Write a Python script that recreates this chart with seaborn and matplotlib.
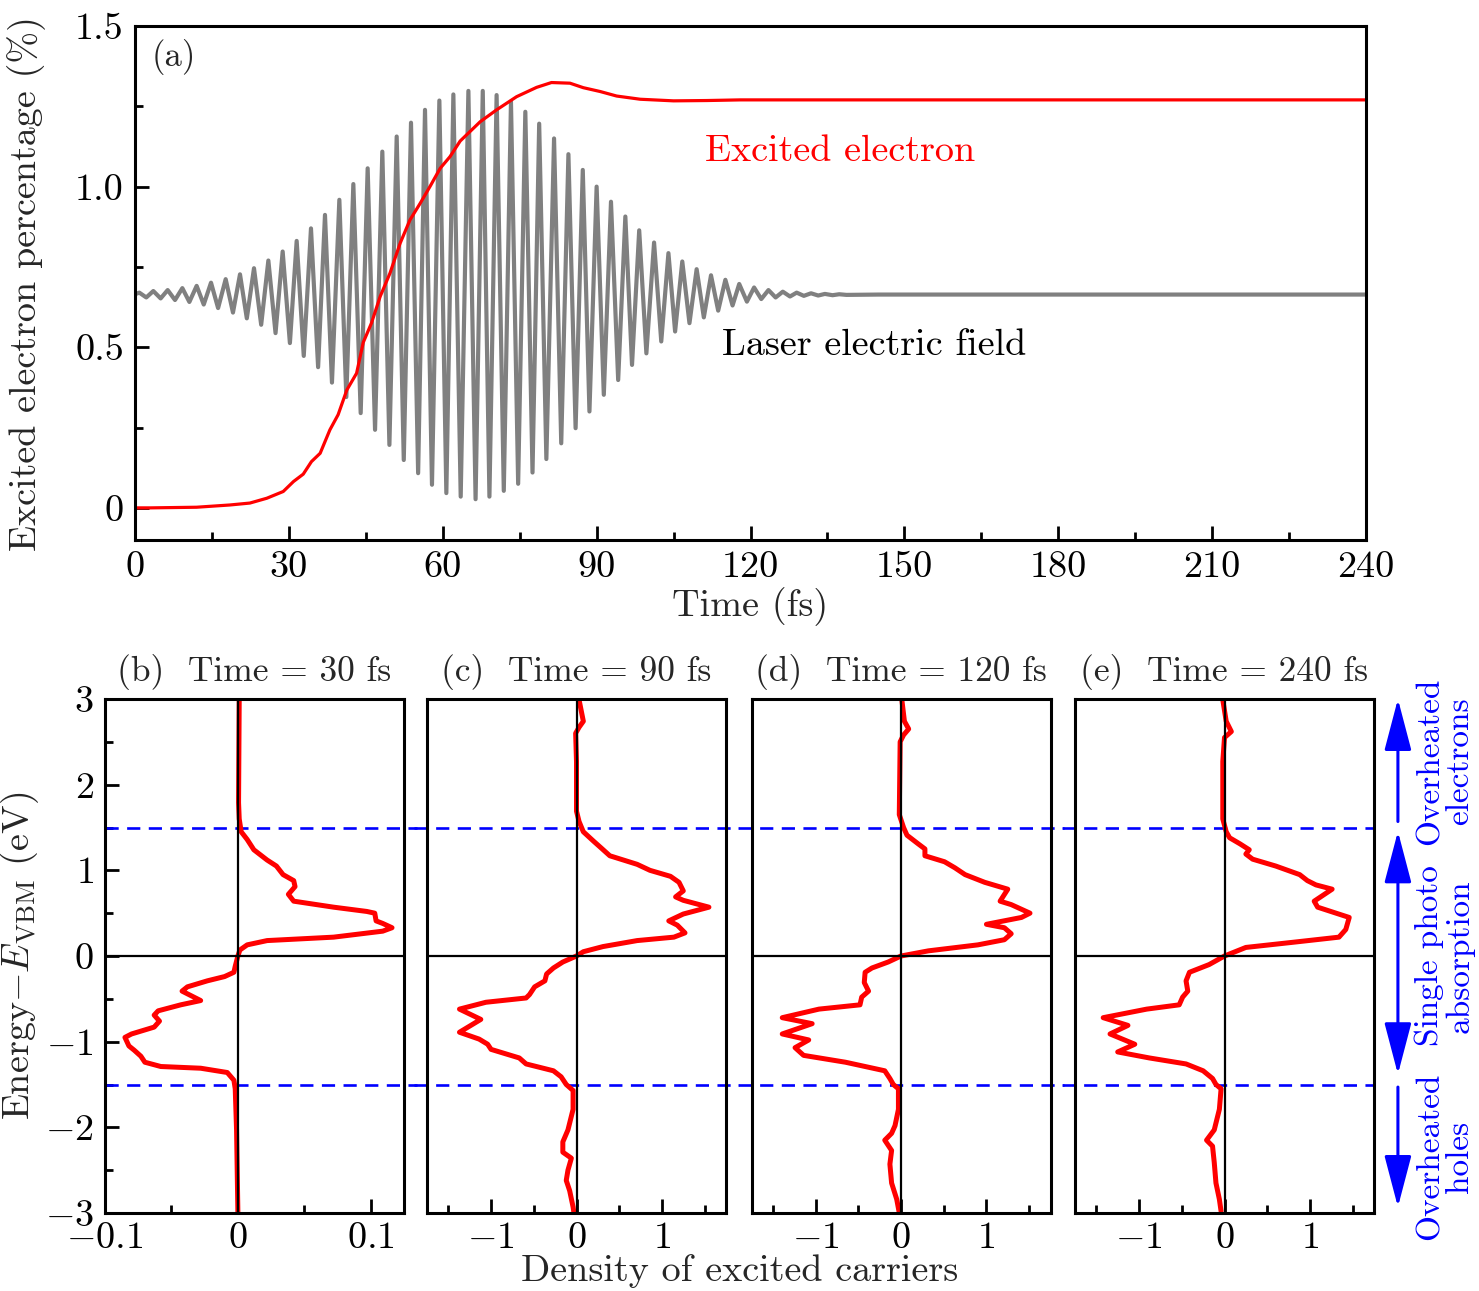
import numpy as np
import pandas as pd
import matplotlib
matplotlib.use("Agg")
import matplotlib.pyplot as plt
import seaborn as sns
from matplotlib.ticker import MultipleLocator, FixedLocator, FixedFormatter

# ---------------- data: panel (a) ----------------
electron_time = [0, 3, 12, 18.5, 22.4, 25.7, 28.9, 30.9, 32.8, 34.4, 36.1, 38.0, 39.6, 41.3,
                 43.2, 44.5, 46.1, 47.8, 49.7, 51.7, 53.6, 55.6, 57.5, 59.5, 61.4, 63.4, 67.3,
                 70.5, 74.4, 78.3, 81.2, 84.8, 87.4, 90.7, 93.9, 98.5, 105, 111.5, 118, 240]
electron_pct = [0, 0, 0.002, 0.009, 0.015, 0.030, 0.051, 0.082, 0.105, 0.144, 0.170, 0.243, 0.290,
                0.367, 0.419, 0.515, 0.575, 0.658, 0.730, 0.824, 0.896, 0.948, 1.000, 1.057, 1.093,
                1.142, 1.202, 1.239, 1.280, 1.309, 1.324, 1.322, 1.308, 1.296, 1.282, 1.272, 1.267,
                1.268, 1.270, 1.270]

laser_time = [0, 0.84, 2.2, 3.57, 5.0, 6.37, 7.8, 9.23, 10.6, 12.02, 13.4, 14.82, 16.2, 17.68, 19.1,
              20.47, 21.8, 23.2, 24.6, 26.0, 27.4, 28.79, 30.2, 31.52, 32.9, 34.31, 35.7, 37.04, 38.4,
              39.84, 41.2, 42.57, 44.0, 45.36, 46.8, 48.22, 49.6, 51.02, 52.4, 53.81, 55.2, 56.54, 57.9,
              59.34, 60.7, 62.07, 63.5, 65.0, 66.4, 67.8, 69.1, 70.5, 71.9, 73.3, 74.7, 76.1, 77.5,
              78.8, 80.2, 81.7, 83.1, 84.5, 85.9, 87.3, 88.6, 90.0, 91.4, 92.8, 94.2, 95.6, 96.9,
              98.3, 99.7, 101.2, 102.6, 104.0, 105.3, 106.7, 108.1, 109.5, 110.9, 112.3, 113.7, 115.1,
              116.5, 117.8, 119.3, 120.7, 122.1, 123.5, 124.9, 126.3, 127.7, 129.0, 130.4, 131.8, 133.2,
              134.5, 136.0, 137.3, 138.7, 145, 240]
laser_field = [0.665, 0.670, 0.655, 0.675, 0.652, 0.678, 0.647, 0.684, 0.641, 0.691, 0.633, 0.701, 0.622,
               0.712, 0.608, 0.727, 0.590, 0.746, 0.570, 0.770, 0.544, 0.798, 0.513, 0.831, 0.473, 0.870,
               0.438, 0.912, 0.390, 0.959, 0.345, 1.008, 0.295, 1.057, 0.243, 1.109, 0.196, 1.156, 0.149,
               1.199, 0.108, 1.239, 0.072, 1.268, 0.046, 1.287, 0.035, 1.298, 0.027, 1.298, 0.035, 1.285,
               0.053, 1.265, 0.075, 1.233, 0.110, 1.196, 0.152, 1.150, 0.201, 1.101, 0.248, 1.052, 0.300,
               1.000, 0.352, 0.953, 0.398, 0.907, 0.445, 0.864, 0.481, 0.826, 0.518, 0.793, 0.549, 0.767,
               0.575, 0.743, 0.593, 0.724, 0.614, 0.710, 0.630, 0.697, 0.642, 0.686, 0.650, 0.678, 0.655,
               0.673, 0.658, 0.670, 0.660, 0.668, 0.661, 0.666, 0.662, 0.665, 0.663, 0.664, 0.664]

# ---------------- data: panels (b)-(e) ----------------
b_energy = [3.0, 1.79, 1.6, 1.45, 1.36, 1.24, 1.12, 1.05, 0.95, 0.88, 0.81, 0.72, 0.64, 0.57, 0.52, 0.50,
            0.41, 0.38, 0.33, 0.29, 0.22, 0.18, 0.13, 0.07, 0.0, -0.12, -0.19, -0.24, -0.29, -0.36,
            -0.41, -0.52, -0.57, -0.64, -0.69, -0.76, -0.83, -0.91, -0.95, -1.05, -1.10, -1.17, -1.24,
            -1.29, -1.31, -1.36, -1.45, -1.55, -2.03, -3.0]
b_density = [0.001, 0.0005, 0.001, 0.0025, 0.007, 0.012, 0.022, 0.029, 0.034, 0.042, 0.043, 0.038,
             0.042, 0.072, 0.097, 0.103, 0.104, 0.109, 0.116, 0.109, 0.072, 0.022, 0.007, 0.0015, 0.0,
             -0.002, -0.003, -0.010, -0.023, -0.038, -0.042, -0.028, -0.043, -0.060, -0.063, -0.059,
             -0.063, -0.080, -0.085, -0.082, -0.078, -0.073, -0.070, -0.058, -0.028, -0.008, -0.003,
             -0.002, -0.001, 0.0]

c_energy = [2.99, 2.74, 2.67, 2.6, 2.27, 1.69, 1.57, 1.45, 1.34, 1.26, 1.17, 1.07, 1.0, 0.93, 0.86, 0.76,
            0.69, 0.65, 0.57, 0.49, 0.41, 0.36, 0.27, 0.22, 0.18, 0.11, 0.05, 0.0, -0.07, -0.14, -0.21,
            -0.29, -0.36, -0.45, -0.49, -0.54, -0.62, -0.74, -0.89, -0.97, -1.03, -1.09, -1.19, -1.26,
            -1.34, -1.41, -1.50, -1.57, -1.79, -2.03, -2.17, -2.29, -2.36, -2.50, -2.62, -2.74, -2.93, -3.0]
c_density = [0.03, 0.08, 0.03, -0.01, 0.0, 0.0, 0.03, 0.08, 0.2, 0.29, 0.39, 0.71, 0.86, 1.10, 1.20, 1.25,
             1.16, 1.25, 1.55, 1.25, 1.08, 1.18, 1.27, 1.14, 0.71, 0.31, 0.08, 0.0, -0.16, -0.27, -0.35,
             -0.37, -0.49, -0.55, -0.59, -1.06, -1.37, -1.12, -1.37, -1.14, -1.04, -1.00, -0.67, -0.59,
             -0.27, -0.18, -0.12, -0.04, -0.04, -0.10, -0.16, -0.16, -0.06, -0.10, -0.12, -0.08, -0.04, -0.03]

d_energy = [2.99, 2.74, 2.65, 2.58, 2.5, 1.65, 1.5, 1.41, 1.31, 1.25, 1.17, 1.10, 1.03, 0.95, 0.86, 0.78,
            0.64, 0.60, 0.50, 0.45, 0.37, 0.33, 0.26, 0.19, 0.13, 0.06, 0.0, -0.07, -0.14, -0.19, -0.31,
            -0.41, -0.48, -0.57, -0.62, -0.72, -0.79, -0.91, -0.98, -1.07, -1.16, -1.24, -1.34, -1.43,
            -1.50, -1.55, -1.79, -1.98, -2.07, -2.15, -2.27, -2.43, -2.65, -2.84, -3.0]
d_density = [0.01, 0.04, 0.09, 0.03, -0.01, -0.02, 0.03, 0.07, 0.2, 0.28, 0.28, 0.51, 0.63, 0.75, 0.98,
             1.25, 1.16, 1.29, 1.51, 1.41, 1.00, 1.21, 1.29, 1.21, 0.90, 0.32, 0.0, -0.15, -0.34, -0.42,
             -0.43, -0.38, -0.46, -0.48, -0.96, -1.39, -1.04, -1.39, -1.08, -1.24, -1.14, -0.65, -0.19,
             -0.13, -0.09, -0.03, -0.03, -0.07, -0.11, -0.19, -0.11, -0.13, -0.11, -0.05, -0.02]

e_energy = [2.99, 2.74, 2.62, 2.55, 2.27, 1.6, 1.45, 1.38, 1.31, 1.24, 1.19, 1.13, 1.05, 0.95, 0.88, 0.83,
            0.78, 0.64, 0.57, 0.45, 0.31, 0.22, 0.16, 0.10, 0.0, -0.10, -0.19, -0.29, -0.41, -0.48,
            -0.57, -0.62, -0.72, -0.81, -0.91, -1.03, -1.12, -1.19, -1.26, -1.34, -1.43, -1.50, -1.55,
            -1.79, -2.03, -2.15, -2.22, -2.41, -2.65, -2.84, -2.98]
e_density = [-0.02, 0.02, 0.08, 0.0, -0.02, -0.02, 0.02, 0.06, 0.18, 0.29, 0.25, 0.33, 0.60, 0.88, 0.97,
             1.07, 1.26, 1.05, 1.09, 1.46, 1.42, 1.34, 0.80, 0.25, 0.0, -0.18, -0.41, -0.45, -0.43, -0.49,
             -0.53, -0.91, -1.42, -1.13, -1.34, -1.05, -1.25, -0.88, -0.45, -0.25, -0.14, -0.10, -0.04,
             -0.06, -0.12, -0.21, -0.14, -0.12, -0.10, -0.06, -0.04]

panel_titles = ["(b)  Time = 30 fs", "(c)  Time = 90 fs", "(d)  Time = 120 fs", "(e)  Time = 240 fs"]
panel_energy = [b_energy, c_energy, d_energy, e_energy]
panel_density = [b_density, c_density, d_density, e_density]

# ---------------- style ----------------
sns.set_theme(style="ticks")
plt.rcParams.update({
    "font.family": ["cmr10", "DejaVu Serif"],
    "mathtext.fontset": "cm",
    "axes.formatter.use_mathtext": True,
    "axes.unicode_minus": True,
    "xtick.direction": "in",
    "ytick.direction": "in",
    "xtick.major.size": 10, "ytick.major.size": 10,
    "xtick.minor.size": 6, "ytick.minor.size": 6,
    "xtick.major.width": 2.0, "ytick.major.width": 2.0,
    "xtick.minor.width": 2.0, "ytick.minor.width": 2.0,
    "axes.linewidth": 2.2,
    "axes.edgecolor": "black",
    "xtick.color": "black", "ytick.color": "black",
    "font.size": 27,
})
FS = 27.5

W, H = 1479, 1291
fig = plt.figure(figsize=(W / 100, H / 100), dpi=100)

# ---------------- panel (a) ----------------
axa = fig.add_axes([135 / W, 1 - 540 / H, 1231 / W, 514 / H])
sns.lineplot(x=laser_time, y=laser_field, sort=False, estimator=None, ax=axa,
             color="#808080", lw=3.0, solid_joinstyle="round")
sns.lineplot(x=electron_time, y=electron_pct, sort=False, estimator=None, ax=axa,
             color="red", lw=2.3)
axa.set_xlim(0, 240)
axa.set_ylim(-0.1, 1.5)
axa.set_xticks([0, 30, 60, 90, 120, 150, 180, 210, 240])
axa.set_xticklabels(["0", "30", "60", "90", "120", "150", "180", "210", "240"])
axa.xaxis.set_minor_locator(MultipleLocator(15))
axa.yaxis.set_major_locator(FixedLocator([0, 0.5, 1.0, 1.5]))
axa.yaxis.set_major_formatter(FixedFormatter(["0", "0.5", "1.0", "1.5"]))
axa.yaxis.set_minor_locator(FixedLocator([0.25, 0.75, 1.25]))
axa.tick_params(labelsize=FS, pad=8)
axa.set_xlabel("Time (fs)", fontsize=FS, labelpad=2)
axa.set_ylabel("Excited electron percentage (%)", fontsize=FS)
axa.yaxis.set_label_coords(-0.072, 0.5)
axa.text(3.2, 1.405, "(a)", fontsize=25, ha="left", va="center")
axa.text(111.2, 1.11, "Excited electron", color="red", fontsize=FS, ha="left", va="center")
axa.text(114.5, 0.505, "Laser electric field", color="black", fontsize=FS, ha="left", va="center")

# ---------------- panels (b)-(e) ----------------
lefts = [105, 427, 751.5, 1075]
axes = []
for i, (left, title, en, de) in enumerate(zip(lefts, panel_titles, panel_energy, panel_density)):
    ax = fig.add_axes([left / W, 1 - 1213 / H, 299 / W, 514 / H])
    axes.append(ax)
    xmin = 0.0 if i == 0 else -0.045
    xmax = 1.0 if i == 3 else 1.045
    ax.axhline(1.5, xmin=xmin, xmax=xmax, color="blue", lw=1.9, ls=(0, (5, 3.2)),
               clip_on=False, zorder=1)
    ax.axhline(-1.5, xmin=xmin, xmax=xmax, color="blue", lw=1.9, ls=(0, (5, 3.2)),
               clip_on=False, zorder=1)
    sns.lineplot(x=de, y=en, sort=False, estimator=None, ax=ax, color="red", lw=3.6, zorder=2)
    ax.axvline(0, color="black", lw=1.6, zorder=3)
    ax.axhline(0, color="black", lw=1.6, zorder=3)
    ax.set_ylim(-3, 3)
    if i == 0:
        ax.set_xlim(-0.1, 0.125)
        ax.set_xticks([-0.1, 0, 0.1])
        ax.set_xticklabels([r"$-0.1$", r"$0$", r"$0.1$"])
        ax.xaxis.set_minor_locator(FixedLocator([-0.05, 0.05]))
        ax.set_yticks([-3, -2, -1, 0, 1, 2, 3])
        ax.set_yticklabels([r"$-3$", r"$-2$", r"$-1$", r"$0$", r"$1$", r"$2$", r"$3$"])
        ax.yaxis.set_minor_locator(MultipleLocator(0.5))
        ax.set_ylabel(r"Energy$-E_{\rm VBM}$ (eV)", fontsize=FS)
        ax.yaxis.set_label_coords(-0.215, 0.5)
    else:
        ax.set_xlim(-1.75, 1.75)
        ax.set_xticks([-1, 0, 1])
        ax.set_xticklabels([r"$-1$", r"$0$", r"$1$"])
        ax.xaxis.set_minor_locator(FixedLocator([-1.5, -0.5, 0.5, 1.5]))
        ax.set_yticks([])
        ax.set_ylabel("")
    ax.tick_params(axis="y", labelsize=FS, pad=8)
    ax.tick_params(axis="x", labelsize=FS, pad=6)
    ax.set_xlabel("")
    ax.set_title(title, fontsize=FS - 2, pad=13)

fig.text(740 / W, 1 - 1271 / H, "Density of excited carriers", fontsize=FS, ha="center", va="center")

# ---------------- arrows and labels on the right ----------------
axe = axes[3]
tr = axe.get_yaxis_transform()
ax_x = 1.08
arrow_kw = dict(color="blue", lw=2.2, shrinkA=0, shrinkB=0, mutation_scale=20)
axe.annotate("", xy=(ax_x, 3.0), xytext=(ax_x, 1.57), xycoords=tr, textcoords=tr,
             arrowprops=dict(arrowstyle="-|>,head_length=1.6,head_width=0.42", **arrow_kw),
             annotation_clip=False)
axe.annotate("", xy=(ax_x, -1.38), xytext=(ax_x, 1.455), xycoords=tr, textcoords=tr,
             arrowprops=dict(arrowstyle="<|-|>,head_length=1.6,head_width=0.42", **arrow_kw),
             annotation_clip=False)
axe.annotate("", xy=(ax_x, -2.93), xytext=(ax_x, -1.53), xycoords=tr, textcoords=tr,
             arrowprops=dict(arrowstyle="-|>,head_length=1.6,head_width=0.42", **arrow_kw),
             annotation_clip=False)
for yc, txt in [(2.27, "Overheated\nelectrons"), (0.0, "Single photo\nabsorption"),
                (-2.34, "Overheated\nholes")]:
    axe.text(1.237, yc, txt, transform=tr, rotation=90, ha="center", va="center",
             multialignment="center", color="blue", fontsize=24, clip_on=False,
             linespacing=1.05)

fig.savefig("out.png", dpi=100)
